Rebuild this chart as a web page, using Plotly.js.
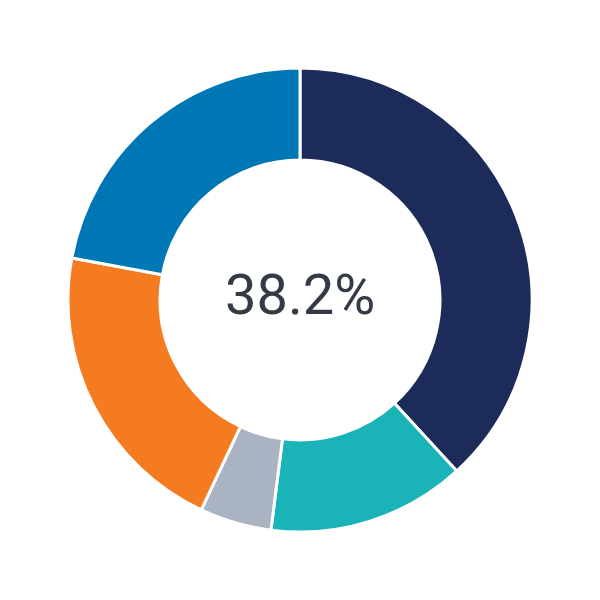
<!DOCTYPE html>
<html>
<head>
<meta charset="utf-8">
<script src="https://cdn.plot.ly/plotly-3.0.1.min.js"></script>
<style>
  html, body { margin: 0; padding: 0; background: #fff; }
  #chart { width: 600px; height: 600px; }
</style>
</head>
<body>
<div id="chart"></div>
<script>
var labels = ['Segment A', 'Segment B', 'Segment C', 'Segment D', 'Segment E'];
var values = [38.2, 13.8, 5.0, 20.9, 22.1];
var colors = ['#1c2b5a', '#1ab4b8', '#a9b3c1', '#f47b20', '#0077b5'];
var centerLabel = '38.2%';

var donut = {
    type: 'pie',
    labels: labels,
    values: values,
    hole: 0.603,
    sort: false,
    direction: 'clockwise',
    rotation: 0,
    textinfo: 'none',
    hoverinfo: 'label+percent',
    marker: {
        colors: colors,
        line: { color: '#ffffff', width: 3 }
    }
};

var layout = {
    width: 600,
    height: 600,
    margin: { l: 68, r: 68, t: 68, b: 68 },
    showlegend: false,
    paper_bgcolor: '#ffffff',
    annotations: [{
        text: centerLabel,
        x: 0.5,
        y: 0.5,
        xref: 'paper',
        yref: 'paper',
        yshift: 5,
        showarrow: false,
        font: { family: 'Roboto, Arial, sans-serif', size: 56, color: '#343a46' }
    }]
};

Plotly.newPlot('chart', [donut], layout, { displayModeBar: false, staticPlot: true });
</script>
</body>
</html>
